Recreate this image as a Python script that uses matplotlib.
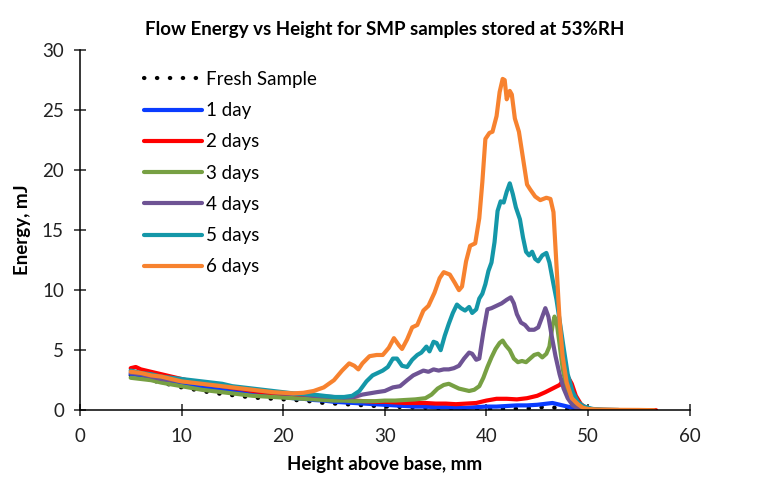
import matplotlib.pyplot as plt

# ---- data (height in mm, energy in mJ) ----
fresh_x = [5, 6, 7, 8, 9, 10, 11, 12, 13, 14, 15, 16, 17, 18, 19, 20, 21, 22, 23, 24,
           25, 26, 27, 28, 29, 30, 32, 34, 36, 38, 40, 42, 44, 45, 46, 46.5, 47, 48,
           50, 52, 54, 56]
fresh_y = [2.9, 2.7, 2.5, 2.3, 2.1, 1.9, 1.75, 1.6, 1.45, 1.35, 1.25, 1.15, 1.05, 1.0,
           0.95, 0.9, 0.85, 0.8, 0.7, 0.6, 0.55, 0.5, 0.45, 0.4, 0.35, 0.3, 0.25, 0.2,
           0.15, 0.1, 0.1, 0.1, 0.15, 0.2, 0.3, 0.25, 0.15, 0.05, 0.0, 0.0, 0.0, 0.0]

day1_x = [5, 6, 7, 8, 9, 10, 11, 12, 13, 14, 15, 16, 17, 18, 19, 20, 21, 22, 23, 24, 25,
          26, 27, 28, 29, 30, 31, 32, 33, 34, 35, 36, 37, 38, 39, 40, 41, 42, 43, 44, 45,
          46, 46.5, 47, 47.5, 48, 48.5, 49, 49.5, 50]
day1_y = [3.0, 2.9, 2.7, 2.5, 2.3, 2.2, 2.0, 1.9, 1.8, 1.7, 1.6, 1.5, 1.4, 1.3, 1.2, 1.1,
          1.0, 0.95, 0.85, 0.8, 0.7, 0.65, 0.6, 0.55, 0.5, 0.45, 0.4, 0.35, 0.3, 0.3, 0.25,
          0.25, 0.2, 0.2, 0.25, 0.3, 0.3, 0.35, 0.4, 0.4, 0.45, 0.55, 0.6, 0.5, 0.4, 0.3,
          0.2, 0.15, 0.05, 0.0]

day2_x = [5, 5.5, 6, 7, 8, 9, 10, 11, 12, 13, 14, 15, 16, 17, 18, 19, 20, 21, 22, 23, 24,
          25, 26, 27, 28, 29, 30, 31, 32, 33, 34, 35, 36, 37, 38, 39, 40, 41, 42, 43, 44,
          45, 45.8, 46.5, 47.2, 47.7, 48.0, 48.4, 48.8, 49.3, 49.8, 50.5, 52, 54, 56.7]
day2_y = [3.5, 3.6, 3.4, 3.2, 3.0, 2.8, 2.6, 2.4, 2.2, 2.1, 2.0, 1.85, 1.75, 1.6, 1.5, 1.4,
          1.3, 1.2, 1.1, 1.0, 0.95, 0.9, 0.85, 0.8, 0.75, 0.7, 0.7, 0.65, 0.6, 0.6, 0.6,
          0.55, 0.55, 0.5, 0.55, 0.6, 0.8, 0.95, 0.95, 0.9, 1.0, 1.2, 1.5, 1.8, 2.1, 2.6,
          2.8, 2.2, 1.2, 0.5, 0.2, 0.05, 0.02, 0.0, 0.0]

day3_x = [5, 6, 7, 8, 9, 10, 11, 12, 13, 14, 15, 16, 17, 18, 19, 20, 21, 22, 23, 24, 25,
          26, 27, 28, 29, 30, 31, 32, 33, 34, 34.6, 35.2, 35.8, 36.3, 36.8, 37.3, 37.8,
          38.3, 38.8, 39.3, 39.7, 40.1, 40.5, 40.9, 41.3, 41.6, 41.9, 42.3, 42.7, 43.1,
          43.5, 43.9, 44.3, 44.7, 45.1, 45.5, 45.9, 46.2, 46.5, 46.7, 46.9, 47.2, 47.5,
          47.9, 48.3, 48.8, 49.3, 50]
day3_y = [2.7, 2.6, 2.5, 2.3, 2.15, 2.0, 1.85, 1.7, 1.6, 1.5, 1.4, 1.3, 1.2, 1.15, 1.1,
          1.05, 1.0, 0.95, 0.9, 0.85, 0.8, 0.8, 0.75, 0.75, 0.75, 0.8, 0.8, 0.85, 0.9, 1.0,
          1.3, 1.8, 2.1, 2.2, 2.0, 1.8, 1.7, 1.6, 1.7, 2.0, 2.7, 3.6, 4.4, 5.1, 5.6, 5.8,
          5.4, 5.0, 4.3, 4.0, 4.1, 4.0, 4.3, 4.6, 4.7, 4.4, 4.7, 5.3, 7.0, 7.8, 7.4, 5.5,
          3.5, 1.8, 0.8, 0.3, 0.1, 0.03]

day4_x = [5, 6, 7, 8, 9, 10, 11, 12, 13, 14, 15, 16, 17, 18, 19, 20, 21, 22, 23, 24, 25,
          26, 27, 27.8, 28.5, 29.2, 30, 30.8, 31.5, 32.2, 32.8, 33.3, 33.8, 34.3, 34.8,
          35.3, 35.8, 36.3, 36.8, 37.3, 37.8, 38.3, 38.6, 39.0, 39.3, 39.7, 40.1, 40.5,
          41.0, 41.5, 42.0, 42.4, 42.7, 43.0, 43.4, 43.8, 44.2, 44.7, 45.1, 45.5, 45.8,
          46.1, 46.4, 46.8, 47.2, 47.6, 48.0, 48.5, 49, 49.5]
day4_y = [3.1, 3.0, 2.8, 2.6, 2.5, 2.4, 2.3, 2.2, 2.1, 2.0, 1.9, 1.8, 1.7, 1.6, 1.5, 1.4,
          1.35, 1.3, 1.2, 1.15, 1.1, 1.05, 1.1, 1.3, 1.4, 1.5, 1.6, 1.9, 2.0, 2.5, 2.9,
          3.1, 3.3, 3.2, 3.4, 3.3, 3.4, 3.4, 3.5, 3.7, 4.3, 4.8, 4.7, 4.2, 4.3, 6.5, 8.4,
          8.5, 8.7, 8.9, 9.2, 9.4, 8.9, 8.0, 7.3, 7.1, 6.7, 6.7, 6.9, 7.8, 8.5, 7.8, 6.3,
          4.5, 3.0, 1.8, 1.0, 0.4, 0.15, 0.05]

day5_x = [5, 6, 7, 8, 9, 10, 11, 12, 13, 14, 15, 16, 17, 18, 19, 20, 21, 22, 23, 24, 25,
          26, 26.8, 27.5, 28.2, 28.8, 29.3, 29.8, 30.3, 30.8, 31.2, 31.7, 32.2, 32.7,
          33.2, 33.6, 34.1, 34.4, 34.8, 35.1, 35.5, 35.9, 36.3, 36.7, 37.1, 37.5, 37.9,
          38.3, 38.6, 39.0, 39.3, 39.6, 39.9, 40.2, 40.5, 40.8, 41.1, 41.4, 41.7, 42.0,
          42.3, 42.6, 42.9, 43.3, 43.6, 43.9, 44.2, 44.5, 44.8, 45.1, 45.5, 45.9, 46.2,
          46.6, 46.9, 47.2, 47.6, 48.0, 48.5, 49.0, 49.5, 50, 50.5, 51.5, 53]
day5_y = [3.3, 3.1, 3.0, 2.8, 2.7, 2.6, 2.5, 2.4, 2.3, 2.2, 2.0, 1.9, 1.8, 1.7, 1.6, 1.5,
          1.4, 1.35, 1.3, 1.2, 1.1, 1.1, 1.2, 1.6, 2.4, 2.9, 3.1, 3.3, 3.6, 4.3, 4.3, 3.7,
          3.6, 4.2, 4.6, 4.8, 5.3, 4.9, 5.7, 5.6, 5.0, 6.2, 7.2, 8.1, 8.8, 8.5, 8.3, 8.6,
          8.1, 8.4, 9.3, 9.7, 10.5, 11.6, 12.3, 14.0, 16.6, 17.4, 17.3, 18.2, 18.9, 18.0,
          16.9, 15.9, 14.4, 13.2, 12.9, 13.2, 12.6, 12.4, 12.9, 13.1, 12.3, 10.5, 9.2, 7.5,
          5.2, 3.0, 1.5, 0.7, 0.35, 0.2, 0.1, 0.05, 0.02]

day6_x = [5, 6, 7, 8, 9, 10, 11, 12, 13, 14, 15, 16, 17, 18, 19, 20, 21, 22, 23, 24, 25,
          25.8, 26.5, 27.0, 27.4, 27.8, 28.5, 29.2, 29.8, 30.4, 30.9, 31.4, 31.7, 32.2,
          32.7, 33.2, 33.8, 34.3, 34.9, 35.4, 35.8, 36.4, 36.9, 37.3, 37.6, 38.0, 38.4,
          38.9, 39.3, 39.6, 39.9, 40.3, 40.6, 41.0, 41.3, 41.6, 41.8, 42.0, 42.3, 42.5,
          42.8, 43.2, 43.6, 44.0, 44.3, 44.8, 45.3, 45.9, 46.3, 46.6, 46.9, 47.2, 47.5,
          47.9, 48.4, 49.0, 49.5, 50, 51, 53, 55, 56.5]
day6_y = [3.2, 3.1, 2.9, 2.8, 2.6, 2.4, 2.3, 2.2, 2.1, 2.0, 1.9, 1.8, 1.7, 1.6, 1.5, 1.45,
          1.4, 1.45, 1.6, 1.9, 2.5, 3.3, 3.9, 3.7, 3.4, 3.9, 4.5, 4.6, 4.6, 5.2, 6.0, 5.4,
          5.1, 5.9, 6.9, 7.1, 8.3, 8.7, 9.8, 11.0, 11.5, 11.3, 10.6, 10.0, 10.3, 12.4,
          13.7, 13.9, 16.0, 19.0, 22.6, 23.1, 23.2, 24.5, 26.5, 27.6, 27.5, 25.9, 26.6,
          26.3, 24.3, 23.2, 21.0, 18.8, 18.4, 17.8, 17.5, 17.7, 17.6, 16.5, 12.0, 7.5, 4.5,
          2.3, 1.0, 0.5, 0.2, 0.1, 0.05, 0.03, 0.02, 0.0]

labels = ['Fresh Sample', '1 day', '2 days', '3 days', '4 days', '5 days', '6 days']
colors = ['black', '#0A3CFF', '#FF0000', '#77A043', '#6E5394', '#1497A8', '#F7822F']

plt.rcParams['font.family'] = ['Lato', 'DejaVu Sans']
FS = 13.5

fig = plt.figure(figsize=(7.68, 4.96), dpi=100)
ax = fig.add_axes([0.104, 0.173, 0.794, 0.726])

ax.plot(fresh_x, fresh_y, color=colors[0], lw=3, linestyle=(0, (0.1, 3.0)),
        dash_capstyle='round', label=labels[0])
series = [(day1_x, day1_y), (day2_x, day2_y), (day3_x, day3_y),
          (day4_x, day4_y), (day5_x, day5_y), (day6_x, day6_y)]
for (xs, ys), c, lab in zip(series, colors[1:], labels[1:]):
    ax.plot(xs, ys, color=c, lw=3, solid_capstyle='round', label=lab)

ax.set_xlim(0, 60)
ax.set_ylim(0, 30)
ax.set_xticks(range(0, 61, 10))
ax.set_yticks(range(0, 31, 5))
for s in ['top', 'right']:
    ax.spines[s].set_visible(False)
for s in ['left', 'bottom']:
    ax.spines[s].set_linewidth(1.1)
ax.tick_params(direction='inout', length=9, width=1.1, labelsize=FS, colors='#222222')
ax.tick_params(axis='x', pad=8)
ax.tick_params(axis='y', pad=7)

ax.set_xlabel('Height above base, mm', fontsize=FS, fontweight='bold', labelpad=8)
ax.set_ylabel('Energy, mJ', fontsize=FS, fontweight='bold', labelpad=8)
ax.set_title('Flow Energy vs Height for SMP samples stored at 53%RH',
             fontsize=FS, fontweight='bold', pad=11)

ax.legend(loc='upper left', bbox_to_anchor=(0.09, 0.968), frameon=False,
          fontsize=FS, handlelength=3.1, handletextpad=0.2, labelspacing=0.76,
          borderpad=0)

fig.savefig('out.png', dpi=100)
